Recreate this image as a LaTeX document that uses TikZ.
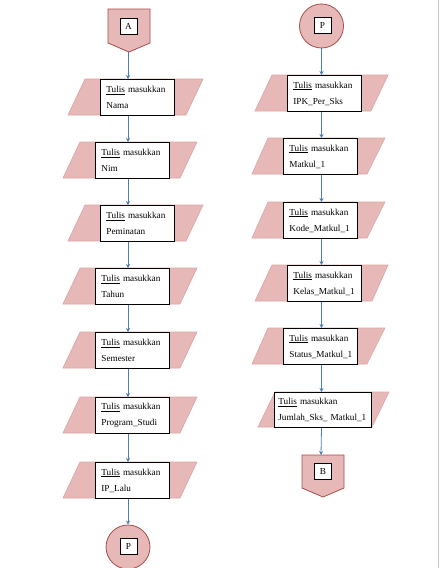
\documentclass[tikz,border=0pt]{standalone}
\usepackage{fontspec}
\setmainfont{Liberation Serif}
\usetikzlibrary{arrows.meta}

\definecolor{paraFill}{HTML}{E6B9B8}
\definecolor{paraLine}{HTML}{DCA3A2}
\definecolor{connLine}{HTML}{A64D4B}
\definecolor{arrowBlue}{HTML}{4A7EBB}

\begin{document}
\begin{tikzpicture}[x=1pt,y=-1pt,
  para/.style={fill=paraFill,draw=paraLine,line width=0.6pt},
  conn/.style={fill=paraFill,draw=connLine,line width=0.8pt},
  inbox/.style={draw=black,fill=white,line width=0.8pt,anchor=north west,
    minimum height=36pt,inner xsep=6pt,text width=62pt,align=left,
    font=\fontsize{9.2}{16}\selectfont},
  lbl/.style={draw=black,fill=white,line width=0.8pt,minimum width=17pt,
    minimum height=16pt,inner sep=0pt,font=\fontsize{9.2}{11}\selectfont},
  flow/.style={arrowBlue,line width=0.8pt,-{Stealth[length=4pt,width=4pt]}}]
\useasboundingbox (0,0) rectangle (440,568);
\draw[color={rgb,255:red,196;green,196;blue,204}] (438.5,0) -- (438.5,568);

% left column
\filldraw[conn] (108,9) -- (150,9) -- (150,43) -- (129,52) -- (108,43) -- cycle;
\coordinate (a-tip) at (128,52);
\node[lbl] (a) at (128.5,26) {A};

\filldraw[para] (68,115) -- (85,79) -- (203,79) -- (186,115) -- cycle;
\node[inbox] (nama) at (100,79) {\underline{Tulis} masukkan\\Nama};
\filldraw[para] (63,178) -- (80,142) -- (197,142) -- (180,178) -- cycle;
\node[inbox] (nim) at (95,142) {\underline{Tulis} masukkan\\Nim};
\filldraw[para] (68,241) -- (85,205) -- (203,205) -- (186,241) -- cycle;
\node[inbox] (peminatan) at (100,205) {\underline{Tulis} masukkan\\Peminatan};
\filldraw[para] (63,304) -- (80,268) -- (197,268) -- (180,304) -- cycle;
\node[inbox] (tahun) at (95,268) {\underline{Tulis} masukkan\\Tahun};
\filldraw[para] (63,368) -- (80,332) -- (197,332) -- (180,368) -- cycle;
\node[inbox] (semester) at (95,332) {\underline{Tulis} masukkan\\Semester};
\filldraw[para] (63,433) -- (80,397) -- (197,397) -- (180,433) -- cycle;
\node[inbox] (prodi) at (95,397) {\underline{Tulis} masukkan\\Program\_Studi};
\filldraw[para] (63,498) -- (80,462) -- (197,462) -- (180,498) -- cycle;
\node[inbox] (iplalu) at (95,462) {\underline{Tulis} masukkan\\IP\_Lalu};

\node[conn,circle,minimum size=44pt,inner sep=0pt] (p-out) at (128,547) {};
\node[lbl] (p-out-l) at (128.5,546.5) {P};

% right column
\node[conn,circle,minimum size=44pt,inner sep=0pt] (p-in) at (321.5,26) {};
\node[lbl] (p-in-l) at (322.5,25) {P};

\filldraw[para] (255,111) -- (272,75) -- (388,75) -- (371,111) -- cycle;
\node[inbox] (ipk) at (287,75) {\underline{Tulis} masukkan\\IPK\_Per\_Sks};
\filldraw[para] (252,174) -- (268,138) -- (385,138) -- (367,174) -- cycle;
\node[inbox] (matkul) at (283,138) {\underline{Tulis} masukkan\\Matkul\_1};
\filldraw[para] (252,238) -- (268,202) -- (385,202) -- (367,238) -- cycle;
\node[inbox] (kode) at (283,202) {\underline{Tulis} masukkan\\Kode\_Matkul\_1};
\filldraw[para] (255,301) -- (272,265) -- (388,265) -- (372,301) -- cycle;
\node[inbox] (kelas) at (287,265) {\underline{Tulis} masukkan\\Kelas\_Matkul\_1};
\filldraw[para] (252,364) -- (268,328) -- (385,328) -- (367,364) -- cycle;
\node[inbox] (status) at (283,328) {\underline{Tulis} masukkan\\Status\_Matkul\_1};
\filldraw[para] (258,427) -- (275,392) -- (389,392) -- (372,427) -- cycle;
\node[inbox,inner xsep=4pt,text width=89pt,minimum height=35pt] (jumlah) at (274,392) {\underline{Tulis} masukkan\\Jumlah\_Sks\_ Matkul\_1};

\filldraw[conn] (302,455) -- (344,455) -- (344,488) -- (323,497) -- (302,488) -- cycle;
\coordinate (b-top) at (321,455);
\node[lbl] (b) at (323,471.5) {B};

% arrows
\draw[flow] (a-tip) -- (a-tip |- nama.north);
\draw[flow] (a-tip |- nama.south) -- (a-tip |- nim.north);
\draw[flow] (a-tip |- nim.south) -- (a-tip |- peminatan.north);
\draw[flow] (a-tip |- peminatan.south) -- (a-tip |- tahun.north);
\draw[flow] (a-tip |- tahun.south) -- (a-tip |- semester.north);
\draw[flow] (a-tip |- semester.south) -- (a-tip |- prodi.north);
\draw[flow] (a-tip |- prodi.south) -- (a-tip |- iplalu.north);
\draw[flow] (a-tip |- iplalu.south) -- (p-out.north);

\draw[flow] (p-in.south) -- (p-in.south |- ipk.north);
\draw[flow] (p-in.south |- ipk.south) -- (p-in.south |- matkul.north);
\draw[flow] (p-in.south |- matkul.south) -- (p-in.south |- kode.north);
\draw[flow] (p-in.south |- kode.south) -- (p-in.south |- kelas.north);
\draw[flow] (p-in.south |- kelas.south) -- (p-in.south |- status.north);
\draw[flow] (p-in.south |- status.south) -- (p-in.south |- jumlah.north);
\draw[flow] (p-in.south |- jumlah.south) -- (b-top);
\end{tikzpicture}
\end{document}
